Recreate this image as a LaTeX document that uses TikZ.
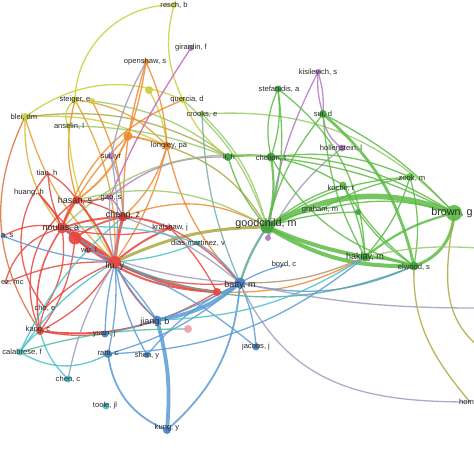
\documentclass[tikz,border=0pt]{standalone}
\usepackage{fontspec}
\setmainfont{Liberation Sans}
\definecolor{cR}{HTML}{E8473F}
\definecolor{cG}{HTML}{5DBB46}
\definecolor{cDG}{HTML}{3FA33C}
\definecolor{cLG}{HTML}{9ACB6C}
\definecolor{cB}{HTML}{5B9BD5}
\definecolor{cDB}{HTML}{4A83C2}
\definecolor{cY}{HTML}{C8D03C}
\definecolor{cO}{HTML}{F08A2E}
\definecolor{cP}{HTML}{B07CC6}
\definecolor{cM}{HTML}{C763B4}
\definecolor{cT}{HTML}{4DC1C9}
\definecolor{cGr}{HTML}{9E9EB8}
\definecolor{cOl}{HTML}{B0A844}
\definecolor{cPk}{HTML}{F0A0A8}
\definecolor{cTx}{HTML}{2A2A2A}
\begin{document}
\begin{tikzpicture}[x=1pt,y=-1pt,
  ed/.style={line width=1.3pt, opacity=0.85},
  thk/.style={line width=#1},
  vl/.style={bend left=#1},
  vr/.style={bend right=#1},
  vdot/.style={circle, inner sep=0pt, minimum size=#1, opacity=0.92},
  lbl/.style={font=\fontsize{7.6}{8}\selectfont, text=cTx, inner sep=0pt},
  mid/.style={font=\fontsize{9}{10}\selectfont},
  large/.style={font=\fontsize{10.8}{12}\selectfont}
]
\useasboundingbox[fill=white] (0,0) rectangle (474,474);
% positions
\coordinate (resch) at (174,5);
\coordinate (girardin) at (191,48);
\coordinate (openshaw) at (146,62);
\coordinate (ydot) at (149,90);
\coordinate (steiger) at (75,100);
\coordinate (ydotb) at (92,101);
\coordinate (blei) at (25,117);
\coordinate (anselin) at (68,126);
\coordinate (quercia) at (183,100);
\coordinate (crooks) at (202,114);
\coordinate (odot) at (128,136);
\coordinate (longley) at (167,146);
\coordinate (suiyr) at (111,156);
\coordinate (kisilevich) at (318,72);
\coordinate (stefanidis) at (278,89);
\coordinate (suid) at (323,114);
\coordinate (hollenstein) at (342,148);
\coordinate (chelion) at (271,157);
\coordinate (lih) at (228,157);
\coordinate (kochir) at (343,185);
\coordinate (zook) at (410,177);
\coordinate (graham) at (320,210);
\coordinate (gdot) at (358,212);
\coordinate (goodchild) at (267,227);
\coordinate (gpdot) at (268,238);
\coordinate (brown) at (454,213);
\coordinate (haklay) at (365,257);
\coordinate (elwood) at (414,266);
\coordinate (boyd) at (285,265);
\coordinate (batty) at (240,283);
\coordinate (rdot) at (217,292);
\coordinate (jiang) at (157,320);
\coordinate (dias) at (198,243);
\coordinate (kralshaw) at (170,228);
\coordinate (cheng) at (123,217);
\coordinate (gao) at (110,197);
\coordinate (hasan) at (77,200);
\coordinate (huang) at (38,193);
\coordinate (tian) at (48,173);
\coordinate (noulas) at (62,228);
\coordinate (noulasb) at (75,238);
\coordinate (wu) at (88,250);
\coordinate (liu) at (115,262);
\coordinate (lopez) at (5,283);
\coordinate (silva) at (3,236);
\coordinate (cho) at (45,308);
\coordinate (kang) at (40,331);
\coordinate (calabrese) at (20,352);
\coordinate (yuan) at (105,334);
\coordinate (ratti) at (108,354);
\coordinate (shen) at (147,355);
\coordinate (chen) at (68,379);
\coordinate (toole) at (106,406);
\coordinate (kung) at (167,430);
\coordinate (jacobs) at (256,347);
\coordinate (hom) at (470,402);
\coordinate (pdot) at (188,329);
\coordinate (eRa) at (478,248);
\coordinate (eRb) at (478,308);
\coordinate (eRc) at (478,346);

% yellow
\draw[ed,cY] (steiger) to[vl=45] (resch);
\draw[ed,cY] (resch) to[vr=20] (quercia);
\draw[ed,cY] (quercia) to[vr=15] (lih);
\draw[ed,cY] (blei) to[vl=30] (quercia);
\draw[ed,cY] (blei) to[vl=15] (longley);
\draw[ed,cOl] (blei) to[vl=18] (lih);
\draw[ed,cY!60!cO] (blei) to[vr=20] (noulas);
\draw[ed,cO!70!cY] (blei) to[vr=15] (liu);
\draw[ed,cR!70!cY] (blei) to[vr=30] (kang);
\draw[ed,cO!70!cY] (steiger) to[vl=20] (longley);
\draw[ed,cO] (steiger) to[vr=15] (hasan);
\draw[ed,cO!70!cY] (steiger) to[vl=15] (liu);
\draw[ed,cLG] (ydotb) to[vl=15] (lih);
\draw[ed,cO] (ydotb) to[vl=12] (cheng);
\draw[ed,cY] (anselin) to[vl=40] (steiger);
\draw[ed,cY] (anselin) to[vr=15] (liu);
\draw[ed,cLG] (anselin) to[vl=10] (lih);
\draw[ed,cY] (ydot) to[vl=10] (longley);
\draw[ed,cO] (quercia) to[vr=25] (noulas);
\draw[ed,cLG] (quercia) to[vl=15] (goodchild);
\draw[ed,cLG] (crooks) to[vl=25] (brown);
\draw[ed,cLG] (crooks) to[vl=15] (goodchild);
\draw[ed,cB!60!cLG] (crooks) to[vr=10] (batty);
% orange
\draw[ed,cO] (openshaw) to[vl=10] (longley);
\draw[ed,cO] (openshaw) to[vl=5] (odot);
\draw[ed,cO,thk=1.8pt] (odot) to[vl=15] (hasan);
\draw[ed,cO] (odot) to[vr=10] (noulas);
\draw[ed,cO] (openshaw) to[vr=8] (cheng);
\draw[ed,cO,thk=1.8pt] (odot) to[vl=5] (longley);
\draw[ed,cO] (longley) to[vr=15] (batty);
\draw[ed,cO] (longley) to[vl=10] (liu);
\draw[ed,cO] (longley) to[vl=15] (cheng);
\draw[ed,cO] (rdot) to[vr=15] (haklay);
\draw[ed,cOl] (longley) to[vl=20] (goodchild);
\draw[ed,cO] (cheng) to[vl=25] (goodchild);
% purple
\draw[ed,cM] (girardin) to[vr=5] (gao);
\draw[ed,cP] (kisilevich) to[vl=10] (suid);
\draw[ed,cP] (kisilevich) to[vr=10] (suid);
\draw[ed,cP] (kisilevich) to[vr=10] (gpdot);
\draw[ed,cP] (suid) to[vr=25] (hollenstein);
\draw[ed,cGr] (hollenstein) to[vr=12] (gpdot);
\draw[ed,cGr] (suiyr) to[vl=10] (cheng);
\draw[ed,cGr] (openshaw) to[vr=8] (suiyr);
\draw[ed,cM] (gao) to[vl=10] (cheng);
\draw[ed,cP] (gao) to[vl=20] (lih);
% green
\draw[ed,cG] (stefanidis) to[vl=12] (chelion);
\draw[ed,cG] (stefanidis) to[vr=18] (chelion);
\draw[ed,cG] (stefanidis) to[vl=12] (goodchild);
\draw[ed,cG] (stefanidis) to[vl=25] (haklay);
\draw[ed,cG] (suid) to[vr=12] (goodchild);
\draw[ed,cG] (suid) to[vr=12] (haklay);
\draw[ed,cG,thk=2.8pt] (suid) to[vl=18] (elwood);
\draw[ed,cG] (suid) to[vl=10] (brown);
\draw[ed,cG] (lih) to[vl=10] (chelion);
\draw[ed,cG] (lih) to[vr=12] (goodchild);
\draw[ed,cG] (lih) to[vl=18] (brown);
\draw[ed,cG,thk=2.2pt] (chelion) to[vl=12] (goodchild);
\draw[ed,cG] (chelion) to[vl=10] (kochir);
\draw[ed,cG] (chelion) to[vl=15] (zook);
\draw[ed,cG] (chelion) to[vr=22] (elwood);
\draw[ed,cG] (chelion) to[vl=10] (brown);
\draw[ed,cG,thk=5.5pt] (goodchild) to[vl=25] (brown);
\draw[ed,cG,thk=4pt] (goodchild) to[vr=6] (haklay);
\draw[ed,cG,thk=4pt] (goodchild) to[vr=16] (elwood);
\draw[ed,cG] (goodchild) to[vl=10] (graham);
\draw[ed,cG] (goodchild) to[vl=15] (zook);
\draw[ed,cG] (goodchild) to[vl=10] (kochir);
\draw[ed,cG] (goodchild) to[vl=8] (gdot);
\draw[ed,cG,thk=3pt] (brown) to[vl=35] (elwood);
\draw[ed,cG,thk=2.2pt] (brown) to[vr=12] (haklay);
\draw[ed,cG] (brown) to[vr=15] (graham);
\draw[ed,cG,thk=3pt] (haklay) to[vl=8] (elwood);
\draw[ed,cG] (haklay) to[vr=12] (zook);
\draw[ed,cG] (elwood) to[vr=12] (zook);
\draw[ed,cG] (graham) to[vl=10] (zook);
\draw[ed,cG] (kochir) to[vl=10] (haklay);
\draw[ed,cG] (elwood) to[vl=10] (kochir);
\draw[ed,cG] (elwood) to[vl=10] (gdot);
\draw[ed,cOl] (elwood) to[out=268,in=130] (hom);
\draw[ed,cOl] (brown) to[out=262,in=140] (eRc);
\draw[ed,cLG] (haklay) to[vl=8] (eRa);
\draw[ed,cLG] (noulas) to[vl=25] (chelion);
\draw[ed,cLG] (hasan) to[vl=22] (goodchild);
% red
\draw[ed,cR,thk=3pt] (noulas) to[vl=5] (liu);
\draw[ed,cR,thk=3pt] (noulasb) to[vr=5] (liu);
\draw[ed,cR,thk=2pt] (noulas) to[vl=12] (hasan);
\draw[ed,cR,thk=2pt] (noulas) to[vl=8] (cheng);
\draw[ed,cR,thk=1.8pt] (noulasb) to[vl=12] (cheng);
\draw[ed,cR,thk=1.6pt] (noulas) to[vr=22] (kang);
\draw[ed,cR] (noulasb) to[vl=15] (kang);
\draw[ed,cR] (noulas) to[vl=10] (wu);
\draw[ed,cR] (noulas) to[vr=12] (kralshaw);
\draw[ed,cR] (noulas) to[vr=22] (batty);
\draw[ed,cR,thk=2pt] (noulasb) to[vr=18] (rdot);
\draw[ed,cR] (noulas) to[vr=30] (lopez);
\draw[ed,cR] (noulas) to[vr=20] (silva);
\draw[ed,cR] (noulas) to[vl=20] (cho);
\draw[ed,cR,thk=3pt] (liu) to[vl=5] (cheng);
\draw[ed,cR,thk=2pt] (liu) to[vr=8] (hasan);
\draw[ed,cR,thk=2pt] (liu) to[vl=8] (kralshaw);
\draw[ed,cOl,thk=3pt] (liu) to[vl=12] (goodchild);
\draw[ed,cR,thk=3pt] (liu) to[vr=10] (rdot);
\draw[ed,cR] (liu) to[vl=15] (kang);
\draw[ed,cR] (liu) to[vr=12] (jiang);
\draw[ed,cR] (hasan) to[vl=10] (cheng);
\draw[ed,cR] (hasan) to[vr=10] (gao);
\draw[ed,cR,thk=2pt] (cheng) to[vl=10] (kralshaw);
\draw[ed,cR] (kralshaw) to[vl=10] (batty);
\draw[ed,cR] (kralshaw) to[vl=8] (rdot);
\draw[ed,cR] (tian) to[vl=12] (hasan);
\draw[ed,cR] (tian) to[vr=10] (noulas);
\draw[ed,cR] (huang) to[vr=10] (liu);
\draw[ed,cR] (huang) to[vl=10] (noulas);
\draw[ed,cR] (kang) to[vr=18] (rdot);
\draw[ed,cR] (kang) to[vr=8] (yuan);
\draw[ed,cR] (kang) to[vr=12] (jiang);
\draw[ed,cR] (kang) to[vl=10] (cho);
\draw[ed,cR] (cho) to[vl=10] (liu);
\draw[ed,cR] (hasan) to[vr=40] (kang);
\draw[ed,cR] (tian) to[vr=40] (cho);
\draw[ed,cR] (lopez) to[vl=12] (liu);
% blue
\draw[ed,cB,thk=3.8pt] (batty) to[vl=15] (jiang);
\draw[ed,cB,thk=3.8pt] (jiang) to[vl=10] (kung);
\draw[ed,cB,thk=1.8pt] (batty) to[vl=22] (kung);
\draw[ed,cB,thk=1.8pt] (ratti) to[vr=30] (kung);
\draw[ed,cB] (batty) to[vl=12] (ratti);
\draw[ed,cB] (batty) to[vr=12] (shen);
\draw[ed,cB] (batty) to[vl=8] (yuan);
\draw[ed,cB] (batty) to[vl=10] (jacobs);
\draw[ed,cB!55!cPk] (batty) to[out=295,in=180,looseness=1.1] (hom);
\draw[ed,cB!50!cG,thk=2.2pt] (batty) to[vl=8] (goodchild);
\draw[ed,cB] (batty) to[vl=8] (boyd);
\draw[ed,cB] (batty) to[vr=18] (elwood);
\draw[ed,cO!60!cB] (batty) to[vr=12] (haklay);
\draw[ed,cB] (batty) to[vr=10] (dias);
\draw[ed,cGr] (batty) to[vr=6] (eRb);
\draw[ed,cB] (jiang) to[vl=10] (liu);
\draw[ed,cB] (ratti) to[vr=8] (liu);
\draw[ed,cB] (yuan) to[vl=6] (liu);
\draw[ed,cB] (jiang) to[vr=12] (noulas);
\draw[ed,cB] (shen) to[vl=10] (liu);
\draw[ed,cB] (silva) to[vr=8] (liu);
\draw[ed,cB] (jacobs) to[vr=8] (liu);
\draw[ed,cB!60!cG] (liu) to[vr=22] (elwood);
\draw[ed,cB] (ratti) to[vr=18] (haklay);
% teal
\draw[ed,cT] (calabrese) to[vl=8] (kang);
\draw[ed,cT] (calabrese) to[vr=30] (ratti);
\draw[ed,cT] (calabrese) to[vl=12] (liu);
\draw[ed,cT] (calabrese) to[vl=12] (cheng);
\draw[ed,cT!60!cG] (calabrese) to[vl=8] (pdot);
\draw[ed,cT] (chen) to[vl=15] (kang);
\draw[ed,cGr] (chen) to[vl=10] (liu);
\draw[ed,cT] (dias) to[vr=10] (noulas);
\draw[ed,cT] (dias) to[vl=8] (liu);
\draw[ed,cT] (jiang) to[vr=15] (haklay);
% grey
\draw[ed,cGr] (gao) to[vr=8] (liu);
\draw[ed,cGr] (suiyr) to[vl=8] (liu);
\draw[ed,cGr] (cheng) to[vl=10] (batty);
\draw[ed,cGr] (wu) to[vr=8] (batty);

% dots
\node[vdot=6pt,fill=cY] (resch-d) at (resch) {};
\node[vdot=6pt,fill=cP] (girardin-d) at (girardin) {};
\node[vdot=6pt,fill=cO] (openshaw-d) at (openshaw) {};
\node[vdot=8pt,fill=cY] (ydot-d) at (ydot) {};
\node[vdot=7pt,fill=cY] (steiger-d) at (steiger) {};
\node[vdot=6pt,fill=cY] (ydotb-d) at (ydotb) {};
\node[vdot=8pt,fill=cY] (blei-d) at (blei) {};
\node[vdot=5pt,fill=cY] (anselin-d) at (anselin) {};
\node[vdot=6pt,fill=cY] (quercia-d) at (quercia) {};
\node[vdot=6pt,fill=cLG] (crooks-d) at (crooks) {};
\node[vdot=9pt,fill=cO] (odot-d) at (odot) {};
\node[vdot=8pt,fill=cO] (longley-d) at (longley) {};
\node[vdot=7pt,fill=cP] (suiyr-d) at (suiyr) {};
\node[vdot=6pt,fill=cP] (kisilevich-d) at (kisilevich) {};
\node[vdot=7pt,fill=cDG] (stefanidis-d) at (stefanidis) {};
\node[vdot=8pt,fill=cDG] (suid-d) at (suid) {};
\node[vdot=7pt,fill=cP] (hollenstein-d) at (hollenstein) {};
\node[vdot=9pt,fill=cDG] (chelion-d) at (chelion) {};
\node[vdot=8pt,fill=cDG] (lih-d) at (lih) {};
\node[vdot=7pt,fill=cG] (kochir-d) at (kochir) {};
\node[vdot=8pt,fill=cG] (zook-d) at (zook) {};
\node[vdot=6pt,fill=cDG] (gdot-d) at (gdot) {};
\node[vdot=13pt,fill=cDG] (goodchild-d) at (goodchild) {};
\node[vdot=6pt,fill=cP] (gpdot-d) at (gpdot) {};
\node[vdot=16pt,fill=cG] (brown-d) at (brown) {};
\node[vdot=9pt,fill=cDG] (haklay-d) at (haklay) {};
\node[vdot=9pt,fill=cDG] (elwood-d) at (elwood) {};
\node[vdot=11pt,fill=cDB] (batty-d) at (batty) {};
\node[vdot=8pt,fill=cR] (rdot-d) at (rdot) {};
\node[vdot=9pt,fill=cDB] (jiang-d) at (jiang) {};
\node[vdot=5pt,fill=cT] (dias-d) at (dias) {};
\node[vdot=6pt,fill=cR] (kralshaw-d) at (kralshaw) {};
\node[vdot=9pt,fill=cR!85!black] (cheng-d) at (cheng) {};
\node[vdot=7pt,fill=cP!60!cPk] (gao-d) at (gao) {};
\node[vdot=8pt,fill=cR] (hasan-d) at (hasan) {};
\node[vdot=11pt,fill=cR] (noulas-d) at (noulas) {};
\node[vdot=13pt,fill=cR] (noulasb-d) at (noulasb) {};
\node[vdot=6pt,fill=cR] (wu-d) at (wu) {};
\node[vdot=12pt,fill=cR] (liu-d) at (liu) {};
\node[vdot=5pt,fill=cB] (silva-d) at (silva) {};
\node[vdot=8pt,fill=cR] (kang-d) at (kang) {};
\node[vdot=7pt,fill=cT] (calabrese-d) at (calabrese) {};
\node[vdot=7pt,fill=cDB] (yuan-d) at (yuan) {};
\node[vdot=8pt,fill=cDB] (ratti-d) at (ratti) {};
\node[vdot=6pt,fill=cDB] (shen-d) at (shen) {};
\node[vdot=7pt,fill=cT] (chen-d) at (chen) {};
\node[vdot=7pt,fill=cT] (toole-d) at (toole) {};
\node[vdot=8pt,fill=cDB] (kung-d) at (kung) {};
\node[vdot=7pt,fill=cDB] (jacobs-d) at (jacobs) {};
\node[vdot=8pt,fill=cPk] (pdot-d) at (pdot) {};

% labels
\node[lbl] (resch-l) at (174,5) {resch, b};
\node[lbl] (girardin-l) at (191,48) {girardin, f};
\node[lbl] (openshaw-l) at (145,62) {openshaw, s};
\node[lbl] (steiger-l) at (75,100) {steiger, e};
\node[lbl] (blei-l) at (24,117) {blei, dm};
\node[lbl] (anselin-l) at (69,126) {anselin, l};
\node[lbl] (quercia-l) at (187,100) {quercia, d};
\node[lbl] (crooks-l) at (202,114) {crooks, e};
\node[lbl] (longley-l) at (169,146) {longley, pa};
\node[lbl] (suiyr-l) at (111,157) {sui, yr};
\node[lbl] (kisilevich-l) at (318,72) {kisilevich, s};
\node[lbl] (stefanidis-l) at (279,89) {stefanidis, a};
\node[lbl] (suid-l) at (323,114) {sui, d};
\node[lbl] (hollenstein-l) at (341,148) {hollenstein, l};
\node[lbl] (chelion-l) at (271,158) {chelion, t};
\node[lbl] (lih-l) at (229,157) {li, h};
\node[lbl] (kochir-l) at (341,188) {kochir, r};
\node[lbl] (zook-l) at (412,178) {zook, m};
\node[lbl] (graham-l) at (320,210) {graham, m};
\node[lbl,large] (goodchild-l) at (266,224) {goodchild, m};
\node[lbl,large] (brown-l) at (452,213) {brown, g};
\node[lbl,mid] (haklay-l) at (365,257) {haklay, m};
\node[lbl] (elwood-l) at (414,267) {elwood, s};
\node[lbl] (boyd-l) at (284,265) {boyd, c};
\node[lbl,mid] (batty-l) at (240,285) {batty, m};
\node[lbl,mid] (jiang-l) at (155,322) {jiang, b};
\node[lbl] (dias-l) at (198,243) {dias-martinez, v};
\node[lbl] (kralshaw-l) at (170,228) {kralshaw, j};
\node[lbl,mid] (cheng-l) at (123,215) {cheng, z};
\node[lbl] (gao-l) at (111,198) {gao, s};
\node[lbl,mid] (hasan-l) at (75,201) {hasan, s};
\node[lbl] (huang-l) at (29,193) {huang, h};
\node[lbl] (tian-l) at (47,173) {tian, h};
\node[lbl,mid] (noulas-l) at (61,228) {noulas, a};
\node[lbl] (wu-l) at (89,250) {wu, l};
\node[lbl,mid] (liu-l) at (115,266) {liu, y};
\node[lbl,anchor=west] (lopez-l) at (1,283) {ez, mc};
\node[lbl,anchor=west] (silva-l) at (1,236) {a, s};
\node[lbl] (cho-l) at (45,308) {cho, e};
\node[lbl] (kang-l) at (38,330) {kang, c};
\node[lbl] (calabrese-l) at (22,352) {calabrese, f};
\node[lbl] (yuan-l) at (104,334) {yuan, j};
\node[lbl] (ratti-l) at (108,353) {ratti, c};
\node[lbl] (shen-l) at (147,356) {shen, y};
\node[lbl] (chen-l) at (68,379) {chen, c};
\node[lbl] (toole-l) at (105,406) {toole, jl};
\node[lbl] (kung-l) at (167,428) {kung, y};
\node[lbl] (jacobs-l) at (256,347) {jacobs, j};
\node[lbl,anchor=west] (hom-l) at (459,402) {hom};
\end{tikzpicture}
\end{document}
